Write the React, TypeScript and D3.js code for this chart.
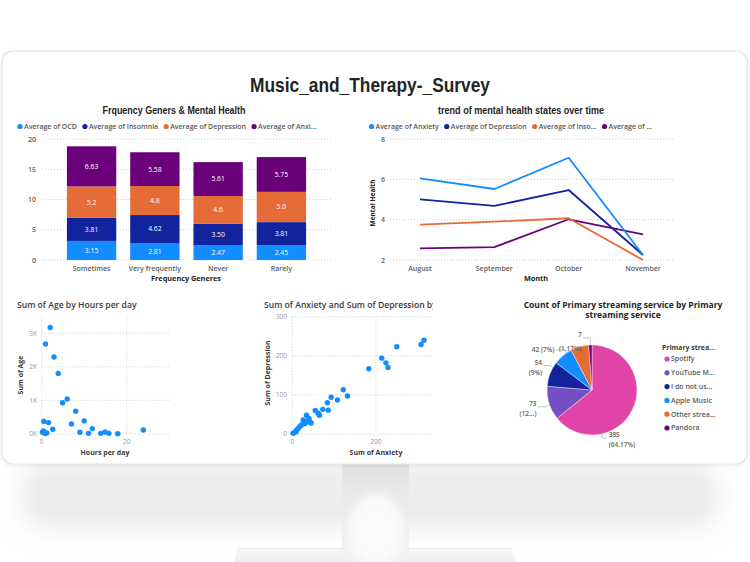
import React, { useEffect, useRef } from 'react';
import * as d3 from 'd3';

const W = 750;
const H = 562;

const BLUE = '#118DFF';
const NAVY = '#12239E';
const ORANGE = '#E66C37';
const PURPLE = '#6B007B';
const PINK = '#E044A7';
const VIOLET = '#744EC2';

// Frequency vs mental health (stacked bars)
const freqCategories = ['Sometimes', 'Very frequently', 'Never', 'Rarely'];
const avgOcd = [3.15, 2.81, 2.47, 2.45];
const avgInsomnia = [3.81, 4.62, 3.5, 3.81];
const avgDepression = [5.2, 4.8, 4.6, 5.0];
const avgAnxiety = [6.63, 5.58, 5.61, 5.75];
const freqLegend = ['Average of OCD', 'Average of Insomnia', 'Average of Depression', 'Average of Anxi...'];
const freqTicks = [0, 5, 10, 15, 20];

// Monthly trend
const months = ['August', 'September', 'October', 'November'];
const trendAnxiety = [6.05, 5.52, 7.07, 2.25];
const trendDepression = [5.01, 4.68, 5.47, 2.25];
const trendInsomnia = [3.75, 3.9, 4.07, 2.0];
const trendOcd = [2.58, 2.64, 4.02, 3.27];
const trendLegend = ['Average of Anxiety', 'Average of Depression', 'Average of Inso...', 'Average of ...'];
const trendTicks = [2, 4, 6, 8];

// Sum of age by hours per day
const hoursPerDay = [2, 0.9, 2.9, 3.9, 6, 4.9, 8, 0.5, 1.6, 7, 10, 2.6, 11.9, 9, 11, 13.9, 14.9, 15.8, 17.9, 23.9, 0.2, 0.8, 0.4, 1.2];
const sumOfAge = [3170, 2680, 2290, 1800, 1040, 930, 680, 370, 340, 300, 390, 140, 160, 50, 20, 20, 60, 20, 10, 120, 50, 20, 90, 30];
const ageTicks = [0, 1000, 2000, 3000];
const ageTickLabels = ['0K', '1K', '2K', '3K'];
const hourTicks = [0, 20];

// Sum of anxiety vs sum of depression
const sumAnxiety = [315, 308, 250, 214, 224, 229, 183, 122, 132, 108, 93, 84, 86, 73, 55, 65, 62, 34, 42, 30, 22, 14, 9, 2, 26, 18, 10, 36, 5, 28, 45, 40];
const sumDepression = [240, 229, 223, 194, 182, 170, 167, 113, 97, 87, 94, 80, 61, 63, 60, 48, 53, 48, 31, 27, 23, 14, 6, 2, 36, 19, 10, 32, 4, 30, 28, 40];
const depTicks = [0, 100, 200, 300];
const anxTicks = [0, 200];

// Primary streaming service
const services = ['Spotify', 'YouTube Music', 'I do not use a streaming service.', 'Apple Music', 'Other streaming service', 'Pandora'];
const serviceLegend = ['Spotify', 'YouTube M...', 'I do not us...', 'Apple Music', 'Other strea...', 'Pandora'];
const serviceCounts = [385, 73, 54, 42, 39, 7];
const serviceColors = [PINK, VIOLET, NAVY, BLUE, ORANGE, PURPLE];

const SANS = "'Open Sans', 'DejaVu Sans', sans-serif";
const TITLE = "'Liberation Sans', 'Open Sans', sans-serif";
const GRID = '#c9c9c9';

type Sel = d3.Selection<any, any, any, any>;

function hGrid(g: Sel, ticks: number[], y: (v: number) => number, x0: number, x1: number) {
  g.selectAll(null)
    .data(ticks)
    .join('line')
    .attr('x1', x0)
    .attr('x2', x1)
    .attr('y1', d => y(d))
    .attr('y2', d => y(d))
    .attr('stroke', GRID)
    .attr('stroke-width', 0.9)
    .attr('stroke-dasharray', '1 2');
}

// condensed bold heading, squeezed to a fixed width
function heading(g: Sel, text: string, cx: number, y: number, size: number, width: number) {
  g.append('text')
    .attr('x', cx - width / 2).attr('y', y)
    .attr('font-family', TITLE).attr('font-weight', 700).attr('font-size', size).attr('fill', '#252423')
    .attr('textLength', width).attr('lengthAdjust', 'spacingAndGlyphs')
    .text(text);
}

function legendRow(g: Sel, labels: string[], colors: string[], x: number, y: number) {
  let cx = x;
  labels.forEach((label, i) => {
    g.append('circle').attr('cx', cx).attr('cy', y).attr('r', 2.6).attr('fill', colors[i]);
    const t = g.append('text')
      .attr('x', cx + 4)
      .attr('y', y + 2.4)
      .attr('font-size', 7)
      .attr('font-weight', 600)
      .attr('fill', '#5a5856')
      .text(label);
    const w = (t.node() as SVGTextElement).getComputedTextLength();
    cx += 4 + w + 8;
  });
}

function drawMonitor(svg: Sel) {
  const defs = svg.append('defs');
  defs.append('filter').attr('id', 'haze').attr('x', '-20%').attr('y', '-100%').attr('width', '140%').attr('height', '300%')
    .append('feGaussianBlur').attr('stdDeviation', 11);
  defs.append('filter').attr('id', 'soft').attr('x', '-50%').attr('y', '-50%').attr('width', '200%').attr('height', '200%')
    .append('feGaussianBlur').attr('stdDeviation', 5);
  const sh = defs.append('filter').attr('id', 'screenShadow').attr('x', '-5%').attr('y', '-5%').attr('width', '110%').attr('height', '110%');
  sh.append('feDropShadow').attr('dx', 0).attr('dy', 1).attr('stdDeviation', 2).attr('flood-color', '#000').attr('flood-opacity', 0.08);

  const neckGrad = defs.append('linearGradient').attr('id', 'neckGrad').attr('x1', 0).attr('y1', 0).attr('x2', 0).attr('y2', 1);
  neckGrad.append('stop').attr('offset', '0%').attr('stop-color', '#dedede');
  neckGrad.append('stop').attr('offset', '30%').attr('stop-color', '#e8e8e8');
  neckGrad.append('stop').attr('offset', '100%').attr('stop-color', '#f2f2f2');

  const baseGrad = defs.append('linearGradient').attr('id', 'baseGrad').attr('x1', 0).attr('y1', 0).attr('x2', 0).attr('y2', 1);
  baseGrad.append('stop').attr('offset', '0%').attr('stop-color', '#f8f8f8');
  baseGrad.append('stop').attr('offset', '100%').attr('stop-color', '#efefef');

  // soft shadow cast below the screen
  svg.append('rect')
    .attr('x', 20).attr('y', 462).attr('width', 700).attr('height', 68).attr('rx', 30)
    .attr('fill', '#ececec').attr('filter', 'url(#haze)');

  // stand base and neck
  svg.append('path')
    .attr('d', 'M238,548 L512,548 L516,562 L234,562 Z')
    .attr('fill', 'url(#baseGrad)');
  svg.append('line').attr('x1', 238).attr('x2', 512).attr('y1', 548.5).attr('y2', 548.5).attr('stroke', '#e8e8e8');
  svg.append('rect').attr('x', 342).attr('y', 460).attr('width', 67).attr('height', 97).attr('fill', 'url(#neckGrad)');
  svg.append('ellipse').attr('cx', 376).attr('cy', 530).attr('rx', 28).attr('ry', 36)
    .attr('fill', '#fbfbfb').attr('filter', 'url(#soft)');

  // screen
  svg.append('rect')
    .attr('x', 2).attr('y', 51).attr('width', 745).attr('height', 413).attr('rx', 11)
    .attr('fill', '#fff').attr('stroke', '#e4e4e4').attr('stroke-width', 1.2)
    .attr('filter', 'url(#screenShadow)');
}

function drawStackedBars(g: Sel) {
  heading(g, 'Frquency Geners & Mental Health', 174, 113.5, 10.5, 143);
  legendRow(g, freqLegend, [BLUE, NAVY, ORANGE, PURPLE], 20, 126.5);

  const x = d3.scaleBand().domain(freqCategories).range([53, 320]).paddingInner(0.22).paddingOuter(0.22);
  const y = d3.scaleLinear().domain([0, 20]).range([260, 139]);

  hGrid(g, freqTicks, y, 42, 332);
  g.selectAll(null).data(freqTicks).join('text')
    .attr('x', 36).attr('y', d => y(d) + 2.5).attr('text-anchor', 'end')
    .attr('font-size', 7).attr('font-weight', 600).attr('fill', '#605E5C')
    .text(d => d);

  const rows = freqCategories.map((c, i) => ({
    cat: c, ocd: avgOcd[i], insomnia: avgInsomnia[i], depression: avgDepression[i], anxiety: avgAnxiety[i],
  }));
  const keys = ['ocd', 'insomnia', 'depression', 'anxiety'];
  const colors = [BLUE, NAVY, ORANGE, PURPLE];
  const digits = [2, 2, 1, 2];
  const stacked = d3.stack<any>().keys(keys)(rows);

  stacked.forEach((layer, li) => {
    const lg = g.append('g');
    lg.selectAll('rect').data(layer).join('rect')
      .attr('x', d => x(d.data.cat)!)
      .attr('width', x.bandwidth())
      .attr('y', d => y(d[1]))
      .attr('height', d => y(d[0]) - y(d[1]))
      .attr('fill', colors[li]);
    lg.selectAll('text').data(layer).join('text')
      .attr('x', d => x(d.data.cat)! + x.bandwidth() / 2)
      .attr('y', d => (y(d[0]) + y(d[1])) / 2 + 2.4)
      .attr('text-anchor', 'middle')
      .attr('font-size', 6.8).attr('fill', '#fff')
      .text(d => (d.data[keys[li]] as number).toFixed(digits[li]));
  });

  g.selectAll(null).data(freqCategories).join('text')
    .attr('x', d => x(d)! + x.bandwidth() / 2).attr('y', 270.5).attr('text-anchor', 'middle')
    .attr('font-size', 7).attr('font-weight', 600).attr('fill', '#605E5C')
    .text(d => d);
  g.append('text').attr('x', 186).attr('y', 280.5).attr('text-anchor', 'middle')
    .attr('font-size', 7.3).attr('font-weight', 700).attr('fill', '#252423')
    .text('Frequency Generes');
}

function drawTrend(g: Sel) {
  heading(g, 'trend of mental health states over time', 521, 113.5, 10.5, 166);
  const colors = [BLUE, NAVY, ORANGE, PURPLE];
  legendRow(g, trendLegend, colors, 371.5, 126.5);

  const x = d3.scalePoint().domain(months).range([420, 643]);
  const y = d3.scaleLinear().domain([2, 8]).range([260, 139]);

  hGrid(g, trendTicks, y, 390, 673);
  g.selectAll(null).data(trendTicks).join('text')
    .attr('x', 385).attr('y', d => y(d) + 2.5).attr('text-anchor', 'end')
    .attr('font-size', 7).attr('font-weight', 600).attr('fill', '#605E5C')
    .text(d => d);

  const series = [trendAnxiety, trendDepression, trendInsomnia, trendOcd];
  const line = d3.line<number>().x((_, i) => x(months[i])!).y(d => y(d));
  // draw back to front so the anxiety line sits on top
  [3, 2, 1, 0].forEach(si => {
    g.append('path').attr('d', line(series[si])!).attr('fill', 'none')
      .attr('stroke', colors[si]).attr('stroke-width', 1.8).attr('stroke-linejoin', 'round');
  });

  g.selectAll(null).data(months).join('text')
    .attr('x', d => x(d)!).attr('y', 270.5).attr('text-anchor', 'middle')
    .attr('font-size', 7).attr('font-weight', 600).attr('fill', '#605E5C')
    .text(d => d);
  g.append('text').attr('x', 536).attr('y', 280.5).attr('text-anchor', 'middle')
    .attr('font-size', 7.3).attr('font-weight', 700).attr('fill', '#252423')
    .text('Month');
  g.append('text').attr('transform', 'translate(375,203) rotate(-90)').attr('text-anchor', 'middle')
    .attr('font-size', 6.6).attr('font-weight', 700).attr('fill', '#252423')
    .text('Mental Health');
}

function drawAgeScatter(g: Sel) {
  g.append('text').attr('x', 17).attr('y', 307.5)
    .attr('font-size', 8.6).attr('font-weight', 600).attr('fill', '#3b3a39')
    .text('Sum of Age by Hours per day');

  const x = d3.scaleLinear().domain([0, 30]).range([41.7, 169.2]);
  const y = d3.scaleLinear().domain([0, 3500]).range([434, 316.4]);

  hGrid(g, ageTicks, y, 41.7, 170);
  g.selectAll(null).data(hourTicks).join('line')
    .attr('x1', d => x(d)).attr('x2', d => x(d)).attr('y1', 316.4).attr('y2', 434)
    .attr('stroke', GRID).attr('stroke-width', 0.9).attr('stroke-dasharray', '1 2');

  g.selectAll(null).data(ageTicks).join('text')
    .attr('x', 37).attr('y', d => y(d) + 2.4).attr('text-anchor', 'end')
    .attr('font-size', 6.6).attr('fill', '#999')
    .text((_, i) => ageTickLabels[i]);
  g.selectAll(null).data(hourTicks).join('text')
    .attr('x', d => x(d)).attr('y', 443.5).attr('text-anchor', 'middle')
    .attr('font-size', 6.6).attr('fill', '#999')
    .text(d => d);

  g.selectAll(null).data(hoursPerDay).join('circle')
    .attr('cx', d => x(d)).attr('cy', (_, i) => y(sumOfAge[i])).attr('r', 2.7)
    .attr('fill', BLUE);

  g.append('text').attr('x', 105).attr('y', 454.5).attr('text-anchor', 'middle')
    .attr('font-size', 7).attr('font-weight', 700).attr('fill', '#3b3a39')
    .text('Hours per day');
  g.append('text').attr('transform', 'translate(23,375) rotate(-90)').attr('text-anchor', 'middle')
    .attr('font-size', 7).attr('font-weight', 700).attr('fill', '#3b3a39')
    .text('Sum of Age');
}

function drawAnxietyScatter(g: Sel) {
  g.append('clipPath').attr('id', 'anxTitleClip')
    .append('rect').attr('x', 250).attr('y', 290).attr('width', 183).attr('height', 25);
  g.append('text').attr('x', 264).attr('y', 307.5).attr('clip-path', 'url(#anxTitleClip)')
    .attr('font-size', 8.6).attr('font-weight', 600).attr('fill', '#3b3a39')
    .text('Sum of Anxiety and Sum of Depression by');

  const x = d3.scaleLinear().domain([0, 335]).range([292.3, 432.3]);
  const y = d3.scaleLinear().domain([0, 300]).range([434, 316.7]);

  hGrid(g, depTicks, y, 292.3, 433);
  g.selectAll(null).data(anxTicks).join('line')
    .attr('x1', d => x(d)).attr('x2', d => x(d)).attr('y1', 316.7).attr('y2', 434)
    .attr('stroke', GRID).attr('stroke-width', 0.9).attr('stroke-dasharray', '1 2');

  g.selectAll(null).data(depTicks).join('text')
    .attr('x', 287).attr('y', d => y(d) + 2.4).attr('text-anchor', 'end')
    .attr('font-size', 6.6).attr('fill', '#999')
    .text(d => d);
  g.selectAll(null).data(anxTicks).join('text')
    .attr('x', d => x(d)).attr('y', 443.5).attr('text-anchor', 'middle')
    .attr('font-size', 6.6).attr('fill', '#999')
    .text(d => d);

  g.selectAll(null).data(sumAnxiety).join('circle')
    .attr('cx', d => x(d)).attr('cy', (_, i) => y(sumDepression[i])).attr('r', 2.7)
    .attr('fill', BLUE);

  g.append('text').attr('x', 376).attr('y', 454.5).attr('text-anchor', 'middle')
    .attr('font-size', 7).attr('font-weight', 700).attr('fill', '#3b3a39')
    .text('Sum of Anxiety');
  g.append('text').attr('transform', 'translate(270,373) rotate(-90)').attr('text-anchor', 'middle')
    .attr('font-size', 7).attr('font-weight', 700).attr('fill', '#3b3a39')
    .text('Sum of Depression');
}

function drawPie(g: Sel) {
  g.append('text').attr('x', 623).attr('y', 307.5).attr('text-anchor', 'middle')
    .attr('font-size', 8.5).attr('font-weight', 700).attr('fill', '#252423')
    .text('Count of Primary streaming service by Primary');
  g.append('text').attr('x', 623).attr('y', 317.5).attr('text-anchor', 'middle')
    .attr('font-size', 8.5).attr('font-weight', 700).attr('fill', '#252423')
    .text('streaming service');

  const cx = 592, cy = 390, r = 45;
  const total = d3.sum(serviceCounts);
  const arcs = d3.pie<number>().sort(null).value(d => d)(serviceCounts);
  const arc = d3.arc<d3.PieArcDatum<number>>().innerRadius(0).outerRadius(r);

  const pg = g.append('g').attr('transform', `translate(${cx},${cy})`);
  pg.selectAll('path').data(arcs).join('path')
    .attr('d', arc)
    .attr('fill', (_, i) => serviceColors[i])
    .attr('stroke', '#fff').attr('stroke-width', 0.4);

  // outside labels with leader lines: slice index, angle on the rim, elbow length, side, gap between lines
  const labelled = [
    { i: 0, deg: 168, out: 4, h: 5, side: 1, gap: 10, two: true },
    { i: 1, deg: 250, out: 4, h: 8, side: -1, gap: 10, two: true },
    { i: 2, deg: 300, out: 4, h: 6, side: -1, gap: 10, two: true },
    { i: 3, deg: 325, out: 4, h: 8, side: -1, gap: 0, two: false },
    { i: 5, deg: 358, out: 7, h: 7, side: -1, gap: 14, two: true },
  ];
  const fmtPct = (v: number) => {
    const p = (v / total) * 100;
    return Number.isInteger(Math.round(p * 100) / 100) ? `${Math.round(p)}%` : `${p.toFixed(2)}%`;
  };
  labelled.forEach(l => {
    const a = (l.deg * Math.PI) / 180;
    const p0 = [r * Math.sin(a), -r * Math.cos(a)];
    const p1 = [(r + l.out) * Math.sin(a), -(r + l.out) * Math.cos(a)];
    const p2 = [p1[0] + l.side * l.h, p1[1]];
    pg.append('polyline')
      .attr('points', [p0, p1, p2].map(p => p.join(',')).join(' '))
      .attr('fill', 'none').attr('stroke', '#a8a8a8').attr('stroke-width', 0.7);
    const v = serviceCounts[l.i];
    const pct = fmtPct(v);
    const tx = p2[0] + l.side * 1.5;
    const anchor = l.side > 0 ? 'start' : 'end';
    const label = (s: string, yy: number) => pg.append('text')
      .attr('x', tx).attr('y', yy).attr('text-anchor', anchor)
      .attr('font-size', 6.5).attr('font-weight', 600).attr('fill', '#605E5C').text(s);
    if (l.two) {
      label(`${v}`, p2[1] - 1);
      label(l.i === 1 ? '(12...)' : `(${pct})`, p2[1] - 1 + l.gap);
    } else {
      label(`${v} (${pct})`, p2[1] + 2.4);
    }
  });

  // legend
  g.append('text').attr('x', 662).attr('y', 350)
    .attr('font-size', 6.9).attr('font-weight', 700).attr('fill', '#3b3a39')
    .text('Primary strea...');
  const ly = d3.scalePoint().domain(services).range([359, 428]);
  services.forEach((s, i) => {
    g.append('circle').attr('cx', 667).attr('cy', ly(s)!).attr('r', 2.6).attr('fill', serviceColors[i]);
    g.append('text').attr('x', 671).attr('y', ly(s)! + 2.4)
      .attr('font-size', 7).attr('font-weight', 600).attr('fill', '#5a5856')
      .text(serviceLegend[i]);
  });
}

export default function App() {
  const svgRef = useRef<SVGSVGElement>(null);

  useEffect(() => {
    const svg = d3.select(svgRef.current);
    svg.selectAll('*').remove();
    svg.attr('font-family', SANS);

    drawMonitor(svg);

    const screen = svg.append('g');
    heading(screen, 'Music_and_Therapy-_Survey', 370, 91.5, 20.5, 240);

    drawStackedBars(screen.append('g'));
    drawTrend(screen.append('g'));
    drawAgeScatter(screen.append('g'));
    drawAnxietyScatter(screen.append('g'));
    drawPie(screen.append('g'));
  }, []);

  return (
    <div style={{ position: 'absolute', left: 0, top: 0 }}>
      <svg ref={svgRef} width={W} height={H} style={{ display: 'block', background: '#fff' }} />
    </div>
  );
}
